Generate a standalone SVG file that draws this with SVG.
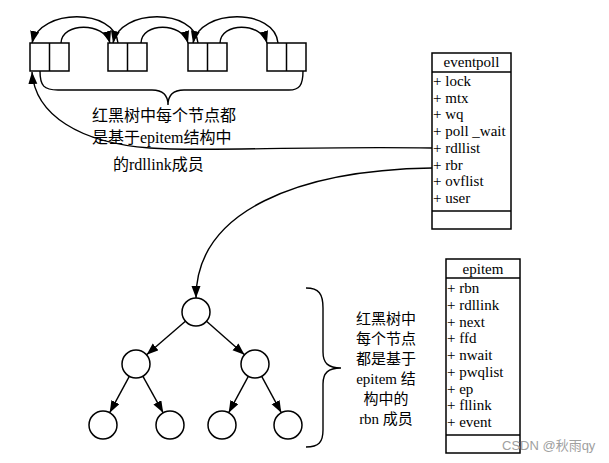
<svg xmlns="http://www.w3.org/2000/svg" width="609" height="463" viewBox="0 0 609 463">
<style>
.s{fill:none;stroke:#000;stroke-width:1.5}
.b{fill:#fff;stroke:#000;stroke-width:1.5}
.c{fill:none;stroke:#000;stroke-width:1.4}
.t{font-family:"Liberation Serif","Noto Sans CJK SC",serif;font-size:15px;fill:#000}
.z{font-family:"Liberation Serif","Noto Sans CJK SC",serif;font-size:16px;fill:#000}
.r{font-family:"Liberation Serif","Noto Sans CJK SC",serif;font-size:15px;fill:#000;text-anchor:middle}
.w{font-family:"Liberation Sans","Noto Sans CJK SC",sans-serif;font-size:13px;fill:#a0a0a0}
</style>
<defs>
<marker id="a" markerUnits="userSpaceOnUse" markerWidth="13" markerHeight="10" refX="12" refY="4.5" orient="auto">
<path d="M0,0 L12,4.5 L0,9 z" fill="#000"/>
</marker>
</defs>
<g id="list">
<g id="ln1"><rect class="b" x="30" y="43" width="39" height="28"/><line class="s" x1="49.5" y1="43" x2="49.5" y2="71"/></g>
<g id="ln2"><rect class="b" x="108" y="43" width="39" height="28"/><line class="s" x1="127.5" y1="43" x2="127.5" y2="71"/></g>
<g id="ln3"><rect class="b" x="188" y="43" width="39" height="28"/><line class="s" x1="207.5" y1="43" x2="207.5" y2="71"/></g>
<g id="ln4"><rect class="b" x="267" y="43" width="39" height="28"/><line class="s" x1="286.5" y1="43" x2="286.5" y2="71"/></g>
</g>
<g id="eventpoll">
<rect class="b" x="432" y="53" width="79" height="176"/>
<line class="s" x1="432" y1="72" x2="511" y2="72"/>
<line class="s" x1="432" y1="211" x2="511" y2="211"/>
<text class="r" x="471.5" y="67">eventpoll</text>
<text class="t" x="433" y="86">+ lock</text>
<text class="t" x="433" y="102.7">+ mtx</text>
<text class="t" x="433" y="119.4">+ wq</text>
<text class="t" x="433" y="136.1">+ poll _wait</text>
<text class="t" x="433" y="152.9">+ rdllist</text>
<text class="t" x="433" y="169.6">+ rbr</text>
<text class="t" x="433" y="186.3">+ ovflist</text>
<text class="t" x="433" y="203">+ user</text>
</g>
<g id="epitem">
<rect class="b" x="446" y="259" width="74" height="194"/>
<line class="s" x1="446" y1="278" x2="520" y2="278"/>
<line class="s" x1="446" y1="435" x2="520" y2="435"/>
<text class="r" x="483" y="273.5">epitem</text>
<text class="t" x="447" y="293">+ rbn</text>
<text class="t" x="447" y="309.8">+ rdllink</text>
<text class="t" x="447" y="326.5">+ next</text>
<text class="t" x="447" y="343.3">+ ffd</text>
<text class="t" x="447" y="360">+ nwait</text>
<text class="t" x="447" y="376.8">+ pwqlist</text>
<text class="t" x="447" y="393.5">+ ep</text>
<text class="t" x="447" y="410.3">+ fllink</text>
<text class="t" x="447" y="427">+ event</text>
</g>
<g id="tree">
<circle id="n0" class="b" cx="196" cy="312" r="14"/>
<circle id="n1" class="b" cx="136" cy="364" r="14"/>
<circle id="n2" class="b" cx="255" cy="364" r="14"/>
<circle id="n3" class="b" cx="103" cy="425" r="14"/>
<circle id="n4" class="b" cx="170" cy="425" r="14"/>
<circle id="n5" class="b" cx="222" cy="425" r="14"/>
<circle id="n6" class="b" cx="288" cy="425" r="14"/>
</g>
<g id="connectors">
<path class="c" d="M118,43 C115,8 40,8 32,43" marker-end="url(#a)"/>
<path class="c" d="M198,43 C195,8 120,8 113,43" marker-end="url(#a)"/>
<path class="c" d="M278,43 C275,8 200,8 193,43" marker-end="url(#a)"/>
<path class="c" d="M61,43 C62,22 104,22 110,43" marker-end="url(#a)"/>
<path class="c" d="M141,43 C142,22 182,22 188,43" marker-end="url(#a)"/>
<path class="c" d="M220,43 C221,22 261,22 267,43" marker-end="url(#a)"/>
<path class="c" d="M40,71 C40,86 44,90 58,90 L152,90 C163,90 168,95 168,105 C168,95 173,90 184,90 L289,90 C299,90 303,86 303,71"/>
<path class="c" d="M306,288 C319,288 323,294 323,308 L323,352 C323,363 328,368 341,368 C328,368 323,373 323,384 L323,430 C323,442 319,447 306,447"/>
<path class="c" d="M432,148 C300,146 200,152 150,148 C80,143 35,115 32,72" marker-end="url(#a)"/>
<path class="c" d="M432,168 C300,170 196,210 196,298" marker-end="url(#a)"/>
<line class="c" x1="185.4" y1="321.2" x2="146.6" y2="354.8" marker-end="url(#a)"/>
<line class="c" x1="206.5" y1="321.3" x2="244.5" y2="354.7" marker-end="url(#a)"/>
<line class="c" x1="129.3" y1="376.3" x2="109.7" y2="412.7" marker-end="url(#a)"/>
<line class="c" x1="142.8" y1="376.2" x2="163.2" y2="412.8" marker-end="url(#a)"/>
<line class="c" x1="248.3" y1="376.3" x2="228.7" y2="412.7" marker-end="url(#a)"/>
<line class="c" x1="261.7" y1="376.3" x2="281.3" y2="412.7" marker-end="url(#a)"/>
</g>
<g id="labels">
<text class="z" x="92" y="121">红黑树中每个节点都</text>
<text class="z" x="92" y="143">是基于epitem结构中</text>
<text class="z" x="113" y="170">的rdllink成员</text>
<text class="r" x="386" y="324">红黑树中</text>
<text class="r" x="386" y="344">每个节点</text>
<text class="r" x="386" y="364">都是基于</text>
<text class="r" x="386" y="384">epitem 结</text>
<text class="r" x="386" y="404">构中的</text>
<text class="r" x="386" y="424">rbn 成员</text>
</g>
<text class="w" x="502" y="450">CSDN @秋雨qy</text>
</svg>
